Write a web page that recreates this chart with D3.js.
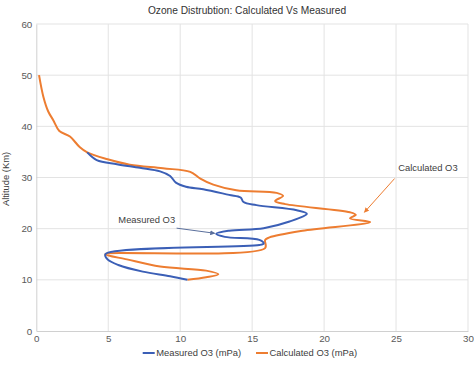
<!DOCTYPE html>
<html>
<head>
<meta charset="utf-8">
<script src="https://cdn.jsdelivr.net/npm/d3@7"></script>
<style>
  body { margin: 0; background: #fff; }
  svg { font-family: "Liberation Sans", Arial, sans-serif; }
  .grid line { stroke: #e3e3e3; }
  .axis text { fill: #595959; font-size: 9.8px; }
</style>
</head>
<body>
<script>
/*** DATA ***/
// calculated O3 (mPa) vs altitude (km), in path order
let calcO3 = [0.19, 0.49, 0.83, 1.18, 1.6, 2.34, 3.03, 3.54, 4.89, 6.5, 8.8, 10.7, 11.4, 12.3, 13.9, 16.7, 17.15, 16.6, 17.3, 21.8, 22.2, 21.8, 23.2, 18.5, 16.2, 15.9, 15.9, 4.8, 6.3, 8.6, 11.8, 12.65, 11.8, 10.5];
let calcAlt = [50, 45.8, 42.9, 41.2, 39.1, 38, 35.9, 34.9, 33.6, 32.5, 31.8, 31.1, 29.8, 28.6, 27.5, 27.0, 26.4, 25.4, 24.8, 23.2, 22.7, 22.0, 21.3, 19.6, 18.3, 17.8, 16.2, 15.0, 14.0, 12.6, 11.8, 11.1, 10.5, 10.0];
// measured O3 (mPa) vs altitude (km)
let measO3 = [3.54, 4.2, 5.6, 7.2, 8.6, 9.3, 9.7, 10.4, 11.6, 13.4, 14.2, 14.4, 15.3, 18.1, 18.8, 17.6, 15.8, 13.4, 12.5, 13.1, 15.5, 15.8, 15.5, 4.8, 4.95, 5.7, 7.4, 9.3, 10.5];
let measAlt = [34.9, 33.4, 32.6, 31.9, 31.2, 30.3, 29.0, 28.2, 27.7, 26.6, 26.1, 25.2, 24.6, 23.6, 22.9, 21.4, 20.1, 19.6, 19.0, 18.4, 17.8, 17.1, 16.8, 15.0, 14.0, 12.9, 11.6, 10.7, 10.0];

let xTicks = [0, 5, 10, 15, 20, 25, 30];
let yTicks = [0, 10, 20, 30, 40, 50, 60];

let seriesNames = ["Measured O3 (mPa)", "Calculated O3 (mPa)"];
let seriesColors = ["#3b5fb6", "#ed7d31"];

/*** GRAPH ***/
let W = 474, H = 369;
let margin = { top: 24, right: 6, bottom: 38, left: 36.3 },
  width = W - margin.left - margin.right,
  height = H - margin.top - margin.bottom;

let x = d3.scaleLinear().domain([0, 30]).range([0, width]);
let y = d3.scaleLinear().domain([0, 60]).range([height, 0]);

let svg = d3.select("body").append("svg")
  .attr("width", W)
  .attr("height", H);

let g = svg.append("g")
  .attr("transform", "translate(" + margin.left + "," + margin.top + ")");

/* grille */
let grid = g.append("g").attr("class", "grid");
grid.selectAll(".gx").data(xTicks.slice(1)).enter().append("line")
  .attr("x1", d => x(d)).attr("x2", d => x(d))
  .attr("y1", 0).attr("y2", height);
grid.selectAll(".gy").data(yTicks.slice(1)).enter().append("line")
  .attr("x1", 0).attr("x2", width)
  .attr("y1", d => y(d)).attr("y2", d => y(d));

/* axes */
let xAxis = g.append("g")
  .attr("class", "axis")
  .attr("transform", "translate(0," + height + ")")
  .call(d3.axisBottom(x).tickValues(xTicks).tickSize(0).tickPadding(4));
xAxis.select(".domain").attr("stroke", "#d0d0d0");

let yAxis = g.append("g")
  .attr("class", "axis")
  .call(d3.axisLeft(y).tickValues(yTicks).tickSize(0).tickPadding(4));
yAxis.select(".domain").attr("stroke", "#d0d0d0");

/* courbes */
let line = d3.line()
  .x(d => x(d[0]))
  .y(d => y(d[1]))
  .curve(d3.curveCatmullRom.alpha(0.5));

let meas = measO3.map((v, i) => [v, measAlt[i]]);
let calc = calcO3.map((v, i) => [v, calcAlt[i]]);

g.append("path").datum(calc)
  .attr("fill", "none").attr("stroke", seriesColors[1])
  .attr("stroke-width", 2).attr("d", line);
g.append("path").datum(meas)
  .attr("fill", "none").attr("stroke", seriesColors[0])
  .attr("stroke-width", 2).attr("d", line);

/* annotations */
let defs = svg.append("defs");
[["arrBlue", "#5a6f9c"], ["arrOrange", "#ed7d31"]].forEach(a => {
  defs.append("marker")
    .attr("id", a[0]).attr("viewBox", "0 0 10 10")
    .attr("refX", 9).attr("refY", 5)
    .attr("markerWidth", 5).attr("markerHeight", 5)
    .attr("orient", "auto")
    .append("path").attr("d", "M0,0L10,5L0,10z").attr("fill", a[1]);
});

g.append("text")
  .attr("x", x(5.7)).attr("y", y(21.1))
  .style("font-size", "9.4px").attr("fill", "#404040")
  .text("Measured O3");
g.append("line")
  .attr("x1", x(9.75)).attr("y1", y(20.1))
  .attr("x2", x(12.4)).attr("y2", y(19.1))
  .attr("stroke", "#5a6f9c").attr("stroke-width", 1)
  .attr("marker-end", "url(#arrBlue)");

g.append("text")
  .attr("x", x(25.15)).attr("y", y(31.2))
  .style("font-size", "9.4px").attr("fill", "#404040")
  .text("Calculated O3");
g.append("line")
  .attr("x1", x(24.9)).attr("y1", y(29.8))
  .attr("x2", x(22.8)).attr("y2", y(23.2))
  .attr("stroke", "#ed7d31").attr("stroke-width", 1)
  .attr("marker-end", "url(#arrOrange)");

/* titre */
svg.append("text")
  .attr("x", 247).attr("y", 14)
  .attr("text-anchor", "middle")
  .style("font-size", "10.2px").attr("fill", "#333")
  .text("Ozone Distrubtion: Calculated Vs Measured");

/* titre axe y */
svg.append("text")
  .attr("transform", "translate(9,179) rotate(-90)")
  .attr("text-anchor", "middle")
  .style("font-size", "9.4px").attr("fill", "#404040")
  .text("Altitude (Km)");

/* légende */
let legend = svg.selectAll(".legend")
  .data(seriesNames)
  .enter().append("g")
  .attr("class", "legend")
  .attr("transform", (d, i) => "translate(" + (142.7 + i * 113.3) + ",353)");

legend.append("line")
  .attr("x1", 0).attr("x2", 12)
  .attr("stroke", (d, i) => seriesColors[i])
  .attr("stroke-width", 2);

legend.append("text")
  .attr("x", 13.5).attr("dy", "0.35em")
  .style("font-size", "9.4px").attr("fill", "#404040")
  .text(d => d);
</script>
</body>
</html>
